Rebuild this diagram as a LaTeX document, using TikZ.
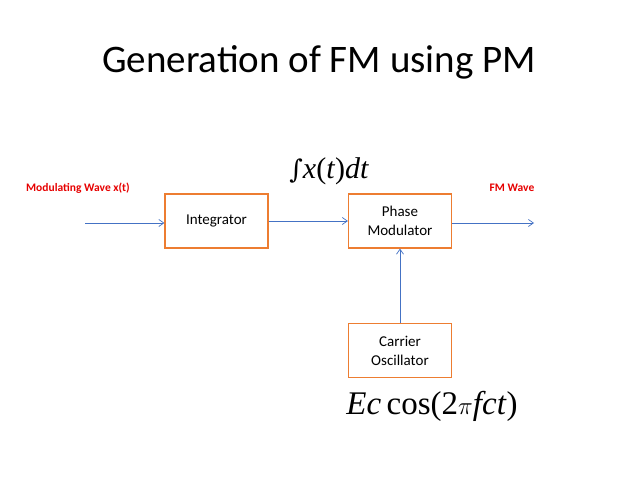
\documentclass[tikz,border=0pt]{standalone}
\usepackage{fontspec}
\setmainfont{Carlito}
\newfontfamily\tms{Liberation Serif}
\newfontfamily\djv{DejaVu Serif}
\usetikzlibrary{arrows.meta}
\definecolor{boxor}{RGB}{237,125,49}
\definecolor{arrb}{RGB}{68,114,196}
\definecolor{redl}{RGB}{230,0,0}
\begin{document}
\begin{tikzpicture}[x=1pt,y=-1pt,
  blk/.style={draw=boxor,line width=1.2pt,minimum width=103pt,minimum height=54pt,align=center,font=\fontsize{15}{19}\selectfont},
  arr/.style={draw=arrb,line width=0.7pt,-{Straight Barb[length=5pt,width=7pt]}},
  lab/.style={text=redl,font=\bfseries\fontsize{11.5}{14}\selectfont}]
\useasboundingbox (0,0) rectangle (638,478);
\node (title) at (319,62) {\fontsize{39}{46}\selectfont Generation of FM using PM};
\node[blk] (int) at (216.5,221) {Integrator};
\node[blk] (pm) at (400,221) {Phase\\Modulator};
\node[blk] (co) at (400,350.5) {Carrier\\Oscillator};
\node[lab] (mw) at (78,188) {Modulating Wave x(t)};
\node[lab] (fm) at (512,188) {FM Wave};
\coordinate (in) at (85,223);
\coordinate (out) at (534,223);
\draw[arr] (in) -- (in -| int.west);
\draw[arr] (int.east) -- (pm.west);
\draw[arr] (pm.east |- out) -- (out);
\draw[arr] (co.north) -- (pm.south);
\node (intl) at (329,171) {\fontsize{30}{34}\selectfont\tms{\djv\fontsize{26}{30}\selectfont ∫}\itshape x\/\upshape(\itshape t\/\upshape)\itshape dt};
\node (ec) at (432,406) {\fontsize{33}{38}\selectfont\tms\itshape Ec\,\upshape cos(2\(\pi\)\itshape fct\/\upshape)};
\end{tikzpicture}
\end{document}
